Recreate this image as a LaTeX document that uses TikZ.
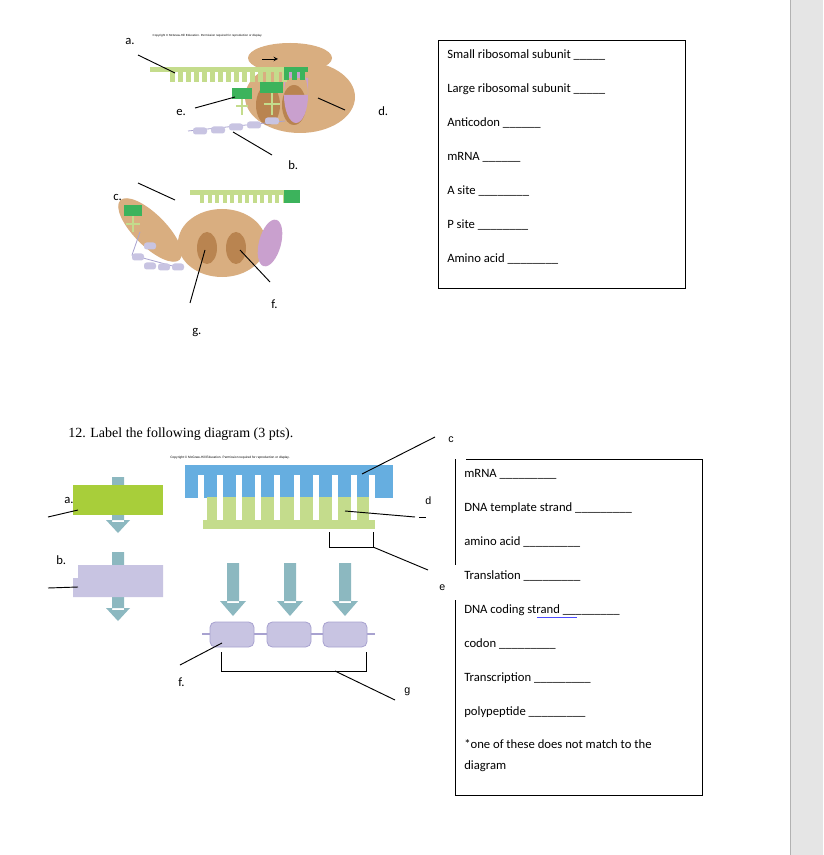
\documentclass[tikz,border=0pt]{standalone}
\usepackage{fontspec}
\setmainfont{Carlito}
\newfontfamily\tms{Liberation Serif}
\newfontfamily\arl{Liberation Sans}
\begin{document}
\begin{tikzpicture}[x=0.75pt,y=-0.75pt,
  lbl/.style={font=\fontsize{9.5}{11}\selectfont,inner sep=0pt,anchor=west},
  ptr/.style={line width=0.7pt},
  bead/.style={fill=beadc,draw=beadd,line width=0.6pt,rounded corners=4pt}]
\definecolor{rib}{HTML}{D9AE80}\definecolor{ribd}{HTML}{B98450}
\definecolor{lg}{HTML}{C4DC8C}\definecolor{dg}{HTML}{3CB35C}
\definecolor{pink}{HTML}{C9A0CE}\definecolor{beadc}{HTML}{C8C4E2}\definecolor{beadd}{HTML}{A8A2D0}
\definecolor{blu}{HTML}{66AEE0}\definecolor{tealc}{HTML}{8CB8C0}\definecolor{gr1}{HTML}{A8CE3A}
\useasboundingbox (0,0) rectangle (823,855);
\fill[white] (0,0) rectangle (823,855);
\fill[black!10] (790,0) rectangle (823,855);
\draw[black!30] (790,0) -- (790,855);
% ===== top ribosome =====
\fill[rib] (300,97) ellipse (55 and 36);
\fill[rib] (290,58) ellipse (42 and 15);
\draw[-stealth,line width=0.5pt] (262,59) -- (278,59);
\fill[ribd] (268,105) ellipse (12 and 20);
\fill[ribd] (294,105) ellipse (12 and 20);
\fill[pink] (284,78) rectangle (308,95) (296,95) ellipse (12 and 28);
\fill[lg] (150,67) rectangle (308,72);
\foreach \i in {0,...,14}{\fill[lg] (170+8*\i,72) rectangle (175+8*\i,82);}
\fill[dg] (284,67) rectangle (308,72);
\foreach \i in {0,1,2}{\fill[dg] (284+8*\i,72) rectangle (289+8*\i,80);}
\fill[dg] (232,88) rectangle (252,99);
\fill[dg] (260,82) rectangle (283,93);
\draw[lg,line width=0.8pt] (242,99) -- (242,115) (236,106)--(248,106);
\draw[lg,line width=0.8pt] (272,93) -- (272,115) (264,104)--(280,104);
\draw[beadd,line width=0.6pt] (188,131) -- (285,121);
\foreach \x/\y in {200/131,218/130,236/127,254/125,272/121}{\fill[beadc,rounded corners=2pt] (\x-7,\y-3.5) rectangle (\x+7,\y+3.5);}
% ===== bottom ribosome =====
\fill[rib,rotate around={-45:(150,230)}] (150,230) ellipse (42 and 16);
\fill[dg] (124,205) rectangle (142,216);
\draw[lg,line width=0.8pt] (133,216) -- (133,232) (126,224)--(140,224);
\fill[lg] (190,190) rectangle (300,195);
\foreach \i in {0,...,12}{\fill[lg] (200+7.5*\i,195) rectangle (204+7.5*\i,203);}
\fill[dg] (284,190) rectangle (300,203);
\fill[rib] (222,243) ellipse (44 and 34);
\fill[ribd] (207,248) ellipse (10 and 16);
\fill[ribd] (236,248) ellipse (10 and 16);
\fill[pink,rotate around={-15:(270,243)}] (270,243) ellipse (11 and 24);
\draw[beadd,line width=0.6pt] (140,232) -- (132,255) -- (180,268);
\foreach \x/\y in {150/246,138/257,150/266,164/267,178/267}{\fill[beadc,rounded corners=2pt] (\x-6,\y-3.5) rectangle (\x+6,\y+3.5);}
% labels top
\node[font=\arl\fontsize{2.2}{3}\selectfont,anchor=west] (cp1) at (148,36) {Copyright \copyright\ McGraw-Hill Education. Permission required for reproduction or display.};
\node[lbl] (la) at (125,41) {a.};
\node[lbl] (le) at (176,112) {e.};
\node[lbl] (ld) at (378,111) {d.};
\node[lbl] (lb) at (288,165) {b.};
\node[lbl] (lc) at (113,197) {c.};
\node[lbl] (lf) at (271,304) {f.};
\node[lbl] (lg) at (192,333) {g.};
\draw[ptr] (138,55)--(175,73) (195,108)--(235,97) (318,98)--(345,110) (233,132)--(272,155)
  (138,183)--(175,200) (205,250)--(190,303) (240,250)--(270,282);
% box 1
\draw[line width=0.6pt] (438,40) rectangle (685,288);
\foreach \t/\y in {{Small ribosomal subunit \_\_\_\_\_}/55,{Large ribosomal subunit \_\_\_\_\_}/89,{Anticodon \_\_\_\_\_\_}/123,{mRNA \_\_\_\_\_\_}/157,{A site \_\_\_\_\_\_\_\_}/191,{P site \_\_\_\_\_\_\_\_}/225,{Amino acid \_\_\_\_\_\_\_\_}/259}
  \node[lbl] at (447,\y) {\t};
% ===== question 12 =====
\node[font=\tms\fontsize{10.5}{12}\selectfont,anchor=west,inner sep=0pt] (q12) at (68,434) {12. Label the following diagram (3 pts).};
\node[font=\arl\fontsize{2.4}{3}\selectfont,inner sep=0pt] (cp2) at (230,458) {Copyright \copyright\ McGraw-Hill Education. Permission required for reproduction or display.};
\fill[blu] (185,465) rectangle (393,498);
\fill[lg] (207,497) rectangle (370,521);
\fill[lg] (203,520) rectangle (375,529);
\foreach \x in {201,220,239,258,277,297,316,335,354,372}{\fill[white] (\x-3,475) rectangle (\x+3,520);}
\draw[line width=0.6pt] (329,532) -- (329,547) -- (373,547) -- (373,532);
% left arrows
\fill[tealc] (112,477) rectangle (124,522) (106,520) -- (130,520) -- (118,533) -- cycle;
\fill[gr1] (73,485) rectangle (163,515);
\fill[tealc] (112,552) rectangle (124,610) (106,608) -- (130,608) -- (118,621) -- cycle;
\fill[beadc] (78,565) rectangle (163,597) (73,578) rectangle (80,597);
% three arrows
\foreach \x in {233,290,345}{\fill[tealc] (\x-6,563) rectangle (\x+6,603) (\x-13,601) -- (\x+13,601) -- (\x,616) -- cycle;}
\draw[beadd,line width=0.8pt] (202,634) -- (375,634);
\foreach \x in {232,289,345}{\fill[bead] (\x-22,622) rectangle (\x+22,647);}
\draw[line width=0.6pt] (221,652) -- (221,671) -- (366,671) -- (366,652);
% labels lower
\node[lbl] (a2) at (64,500) {a.};
\node[lbl] (b2) at (56,560) {b.};
\node[lbl,font=\arl\fontsize{8}{9}\selectfont] (c2) at (448,440) {c};
\node[lbl,font=\arl\fontsize{8}{9}\selectfont] (d2) at (425,501) {d};
\node[lbl,font=\arl\fontsize{8}{9}\selectfont] (e2) at (439,588) {e};
\node[lbl] (f2) at (178,682) {f.};
\node[lbl,font=\arl\fontsize{8}{9}\selectfont] (g2) at (404,692) {g};
\draw[ptr] (48,517)--(78,510) (48,588)--(78,587) (362,474)--(435,437) (345,511)--(415,517)
  (373,547)--(428,570) (222,643)--(180,665) (335,671)--(395,700);
\draw[line width=0.5pt] (419,517)--(426,517);
% box 2
\draw[line width=0.6pt] (466,459) -- (702,459) -- (702,795) -- (455,795) -- (455,600);
\draw[line width=0.6pt] (455,459) -- (455,565);
\foreach \t/\y in {{mRNA \_\_\_\_\_\_\_\_\_}/474,{DNA template strand \_\_\_\_\_\_\_\_\_}/508,{amino acid \_\_\_\_\_\_\_\_\_}/542,{Translation \_\_\_\_\_\_\_\_\_}/576,{codon \_\_\_\_\_\_\_\_\_}/644,{Transcription \_\_\_\_\_\_\_\_\_}/678,{polypeptide \_\_\_\_\_\_\_\_\_}/712,{*one of these does not match to the}/744,{diagram}/766}
  \node[lbl] at (464,\y) {\t};
\node[lbl] (dcs) at (464,610) {DNA coding strand \_\_\_\_\_\_\_\_\_};
\draw[blue!70,line width=0.5pt] (537,617) -- (577,617);
\end{tikzpicture}
\end{document}
